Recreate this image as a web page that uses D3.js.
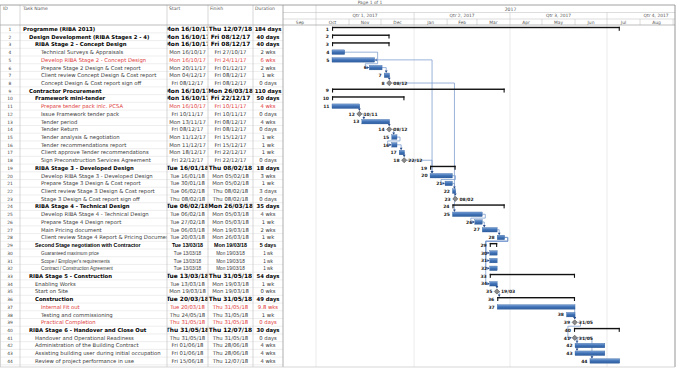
<!DOCTYPE html>
<html><head><meta charset="utf-8">
<script src="https://cdn.jsdelivr.net/npm/d3@7"></script>
<style>body{margin:0;background:#fff}svg{display:block}</style>
</head><body><svg id="c" width="680" height="369"></svg>
<script>
const taskNames = [
"Programme (RIBA 2013)","Design Development (RIBA Stages 2 - 4)","RIBA Stage 2 - Concept Design",
"Technical Surveys & Appraisals","Develop RIBA Stage 2 - Concept Design","Prepare Stage 2 Design & Cost report",
"Client review Concept Design & Cost report","Concept Design & Cost report sign off","Contractor Procurement",
"Framework mini-tender","Prepare tender pack inlc. PCSA","Issue Framework tender pack","Tender period",
"Tender Return","Tender analysis & negotiation","Tender recommendations report","Client approve Tender recommendations",
"Sign Preconstruction Services Agreement","RIBA Stage 3 - Developed Design","Develop RIBA Stage 3 - Developed Design",
"Prepare Stage 3 Design & Cost report","Client review Stage 3 Design & Cost report","Stage 3  Design & Cost report sign off",
"RIBA Stage 4 - Technical Design","Develop RIBA Stage 4 - Technical Design","Prepare Stage 4 Design report",
"Main Pricing document","Client review Stage 4 Report & Pricing Document","Second Stage negotiation with Contractor",
"Guaranteed maximum price","Scope / Employer's requirements","Contract / Construction Agreement",
"RIBA Stage 5 - Construction","Enabling Works","Start on Site","Construction","Internal Fit out",
"Testing and commissioning","Practical Completion","RIBA Stage 6 - Handover and Close Out",
"Handover and Operational Readiness","Administration of the Building Contract",
"Assisting building user during initial occupation","Review of project performance in use"];
const taskLevels = [0,1,2,3,3,3,3,3,1,2,3,3,3,3,3,3,3,3,2,3,3,3,3,2,3,3,3,3,2,3,3,3,1,2,2,2,3,3,3,1,2,2,2,2];
const startLabels = [
"Mon 16/10/17","Mon 16/10/17","Mon 16/10/17","Mon 16/10/17","Mon 16/10/17","Mon 20/11/17","Mon 04/12/17","Fri 08/12/17",
"Mon 16/10/17","Mon 16/10/17","Mon 16/10/17","Fri 10/11/17","Mon 13/11/17","Fri 08/12/17","Mon 11/12/17","Mon 11/12/17",
"Mon 18/12/17","Fri 22/12/17","Tue 16/01/18","Tue 16/01/18","Tue 30/01/18","Tue 06/02/18","Thu 08/02/18","Tue 06/02/18",
"Tue 06/02/18","Tue 27/02/18","Tue 06/03/18","Tue 20/03/18","Tue 13/03/18","Tue 13/03/18","Tue 13/03/18","Tue 13/03/18",
"Tue 13/03/18","Tue 13/03/18","Mon 19/03/18","Tue 20/03/18","Tue 20/03/18","Thu 24/05/18","Thu 31/05/18","Thu 31/05/18",
"Thu 31/05/18","Fri 01/06/18","Fri 01/06/18","Fri 15/06/18"];
const finishLabels = [
"Thu 12/07/18","Fri 08/12/17","Fri 08/12/17","Fri 27/10/17","Fri 24/11/17","Fri 01/12/17","Fri 08/12/17","Fri 08/12/17",
"Mon 26/03/18","Fri 22/12/17","Fri 10/11/17","Fri 10/11/17","Fri 08/12/17","Fri 08/12/17","Fri 15/12/17","Fri 15/12/17",
"Fri 22/12/17","Fri 22/12/17","Thu 08/02/18","Mon 05/02/18","Mon 05/02/18","Thu 08/02/18","Thu 08/02/18","Mon 26/03/18",
"Mon 05/03/18","Mon 05/03/18","Mon 19/03/18","Mon 26/03/18","Mon 19/03/18","Mon 19/03/18","Mon 19/03/18","Mon 19/03/18",
"Thu 31/05/18","Mon 19/03/18","Mon 19/03/18","Thu 31/05/18","Thu 31/05/18","Thu 31/05/18","Thu 31/05/18","Thu 12/07/18",
"Thu 31/05/18","Thu 28/06/18","Thu 28/06/18","Thu 12/07/18"];
const durationLabels = [
"184 days","40 days","40 days","2 wks","6 wks","2 wks","1 wk","0 days","110 days","50 days","4 wks","0 days","4 wks",
"0 days","1 wk","1 wk","1 wk","0 days","18 days","3 wks","1 wk","3 days","0 days","35 days","4 wks","1 wk","2 wks","1 wk",
"5 days","1 wk","1 wk","1 wk","54 days","1 wk","0 wks","49 days","9.8 wks","1 wk","0 days","30 days","0 days","4 wks","4 wks","4 wks"];
const summaryIds = [1,2,3,9,10,19,24,29,33,36,40];
const criticalIds = [5,11,37,39];
const narrowIds = [29,30,31,32];
const links = [[4,5,"FF"],[5,6],[6,7],[7,8],[5,20],[8,25],[11,12],[12,13],[13,14],[14,15],[15,16],[16,17],[17,18],[18,20],
[20,21],[21,22],[22,23],[25,26],[26,27],[27,28],[28,30],[28,31],[28,32],[28,34],[34,35],[35,36],[37,39],[38,39],[39,41],
[41,42],[41,43],[41,44]];
const monthLabels = ["Sep","Oct","Nov","Dec","Jan","Feb","Mar","Apr","May","Jun","Jul","Aug","Sep"];
const quarterLabels = ["Qtr 4, 2016","Qtr 1, 2017","Qtr 2, 2017","Qtr 3, 2017","Qtr 4, 2017"];
const yearLabels = ["2016","2017"];
const columnHeaders = ["ID","Task Name","Start","Finish","Duration"];

const svg = d3.select("#c");
const rowH = 7.72, row0 = 29;
const yRow = i => row0 + i*rowH;
const DAY = 864e5;
const parseLabel = s => { const p = s.trim().split(" ")[1].split("/"); return new Date(Date.UTC(2000 + +p[2], +p[1]-1, +p[0])); };
const x = d3.scaleUtc().domain([new Date(Date.UTC(2017,9,1)), new Date(Date.UTC(2018,6,1))]).range([316,607]);
const GX0 = 283, GX1 = 675, TOP = 5, HB = 25, BOT = 367;
const tasks = taskNames.map((n,i)=>{
  const id=i+1, s=parseLabel(startLabels[i]), f=parseLabel(finishLabels[i]);
  return {id, name:n, level:taskLevels[i], s, f, ms:/^0 /.test(durationLabels[i]), summ:summaryIds.includes(id),
    red:criticalIds.includes(id), narrow:narrowIds.includes(id), y:yRow(i),
    xs:x(s), xe:x(new Date(+f+DAY)), mx:x(new Date(+f+0.7*DAY))};
});
const byId = id => tasks[id-1];

const defs = svg.append("defs");
const cols = [{x0:0,x1:20},{x0:20,x1:167},{x0:167,x1:208},{x0:208,x1:253},{x0:253,x1:283}];
cols.forEach((c,i)=>defs.append("clipPath").attr("id","cl"+i).append("rect").attr("x",c.x0+0.5).attr("y",HB).attr("width",c.x1-c.x0-1).attr("height",BOT-HB));
defs.append("clipPath").attr("id","gclip").append("rect").attr("x",GX0).attr("y",TOP).attr("width",GX1-GX0).attr("height",BOT-TOP);
const grad = defs.append("linearGradient").attr("id","bar").attr("x1",0).attr("y1",0).attr("x2",0).attr("y2",1);
grad.append("stop").attr("offset","0").attr("stop-color","#7da3d6");
grad.append("stop").attr("offset","0.5").attr("stop-color","#3f71b5");
grad.append("stop").attr("offset","1").attr("stop-color","#2f5e9e");

// Page header text
svg.append("text").attr("x",370).attr("y",4).attr("text-anchor","middle").attr("font-family","DejaVu Sans").attr("font-size",4.4).attr("fill","#666").text("Page 1 of 1");

// Table row lines
const tbl = svg.append("g");
tasks.forEach(t=>{
  tbl.append("line").attr("x1",0).attr("x2",GX0).attr("y1",t.y+rowH/2).attr("y2",t.y+rowH/2).attr("stroke","#e3e3e3").attr("stroke-width",0.6);
});
[0.5,20,167,208,253].forEach(cx=>tbl.append("line").attr("x1",cx).attr("x2",cx).attr("y1",TOP).attr("y2",BOT).attr("stroke","#c6c6c6").attr("stroke-width",0.7));
const hx = [3,23,169,210,255];
columnHeaders.forEach((h,i)=>tbl.append("text").attr("x",hx[i]).attr("y",10).attr("font-family","DejaVu Sans").attr("font-size",4.6).attr("fill","#555").text(h));

// Table texts
tasks.forEach(t=>{
  const fam = t.narrow ? "Liberation Sans" : "DejaVu Sans";
  const fs = t.narrow ? (t.summ ? 5.3 : 4.7) : 5.3;
  const fill = t.red ? "#e03a3a" : (t.summ ? "#000" : "#3a3a3a");
  const fw = t.summ ? "bold" : "normal";
  const yb = t.y + 1.9;
  tbl.append("text").attr("x",10).attr("y",yb).attr("text-anchor","middle").attr("font-family","DejaVu Sans").attr("font-size",4.4).attr("fill","#444").text(t.id);
  const vals = [[t.name,"start",23+t.level*6,1],[startLabels[t.id-1],"middle",187.5,2],[finishLabels[t.id-1],"middle",230.5,3],[durationLabels[t.id-1],"middle",268,4]];
  vals.forEach(v=>{
    let fsz = (v[3]>1 && t.narrow && !t.summ) ? 4.7 : fs;
    if((v[3]===2||v[3]===3) && t.summ && !t.narrow) fsz = 5.9;
    tbl.append("text").attr("clip-path","url(#cl"+v[3]+")").attr("x",v[2]).attr("y",yb).attr("text-anchor",v[1])
      .attr("font-family", v[3]>1 && t.narrow ? "Liberation Sans" : fam).attr("font-size",fsz).attr("font-weight",fw).attr("fill",fill).text(v[0]);
  });
});

// Gantt header
const gh = svg.append("g").attr("clip-path","url(#gclip)");
const yearStarts = [new Date(Date.UTC(2016,9,1)), new Date(Date.UTC(2017,9,1)), new Date(Date.UTC(2018,9,1))];
const qStarts = d3.utcMonth.range(new Date(Date.UTC(2017,6,1)), new Date(Date.UTC(2018,10,1)), 3);
const mStarts = d3.utcMonth.range(new Date(Date.UTC(2017,8,1)), new Date(Date.UTC(2018,9,1)));
gh.append("line").attr("x1",GX0).attr("x2",GX1).attr("y1",12.5).attr("y2",12.5).attr("stroke","#c6c6c6").attr("stroke-width",0.6);
gh.append("line").attr("x1",GX0).attr("x2",GX1).attr("y1",19).attr("y2",19).attr("stroke","#c6c6c6").attr("stroke-width",0.6);
yearLabels.forEach((lab,i)=>{
  const a=x(yearStarts[i]), b=x(yearStarts[i+1]);
  gh.append("line").attr("x1",b).attr("x2",b).attr("y1",TOP).attr("y2",12.5).attr("stroke","#c6c6c6").attr("stroke-width",0.6);
  if(i===1) gh.append("text").attr("x",(a+b)/2).attr("y",10.5).attr("text-anchor","middle").attr("font-family","DejaVu Sans").attr("font-size",4.6).attr("fill","#555").text(lab);
});
qStarts.slice(0,-1).forEach((q,i)=>{
  const a=x(q), b=x(qStarts[i+1]);
  gh.append("line").attr("x1",b).attr("x2",b).attr("y1",12.5).attr("y2",19).attr("stroke","#c6c6c6").attr("stroke-width",0.6);
  if(i>0) gh.append("text").attr("x",(a+b)/2).attr("y",17.3).attr("text-anchor","middle").attr("font-family","DejaVu Sans").attr("font-size",4.4).attr("fill","#555").text(quarterLabels[i]);
});
mStarts.slice(0,-1).forEach((m,i)=>{
  const a=x(m), b=x(mStarts[i+1]);
  gh.append("line").attr("x1",b).attr("x2",b).attr("y1",19).attr("y2",HB).attr("stroke","#c6c6c6").attr("stroke-width",0.6);
  gh.append("text").attr("x",(a+b)/2).attr("y",23.6).attr("text-anchor","middle").attr("font-family","DejaVu Sans").attr("font-size",4.4).attr("fill","#555").text(monthLabels[i]);
});
qStarts.forEach(q=>gh.append("line").attr("x1",x(q)).attr("x2",x(q)).attr("y1",HB).attr("y2",BOT).attr("stroke","#e2e2e2").attr("stroke-width",0.7));

// frame lines
svg.append("line").attr("x1",0).attr("x2",GX1).attr("y1",TOP).attr("y2",TOP).attr("stroke","#8a8a8a").attr("stroke-width",0.8);
svg.append("line").attr("x1",0).attr("x2",GX1).attr("y1",HB).attr("y2",HB).attr("stroke","#a0a0a0").attr("stroke-width",0.7);
svg.append("line").attr("x1",GX0).attr("x2",GX0).attr("y1",TOP).attr("y2",BOT).attr("stroke","#9a9a9a").attr("stroke-width",0.8);
svg.append("line").attr("x1",GX1).attr("x2",GX1).attr("y1",TOP).attr("y2",BOT).attr("stroke","#8a8a8a").attr("stroke-width",0.9);
svg.append("line").attr("x1",0).attr("x2",GX1).attr("y1",BOT).attr("y2",BOT).attr("stroke","#c6c6c6").attr("stroke-width",0.7);

// Links
const g = svg.append("g").attr("clip-path","url(#gclip)");
const lk = g.append("g");
const LC = "#7f9fcf", AC = "#2a4d8a";
const arrowDown = (vx,vy)=>lk.append("path").attr("d",`M${vx-1.4},${vy-2.4}L${vx+1.4},${vy-2.4}L${vx},${vy}Z`).attr("fill",AC);
const arrowRight = (vx,vy)=>lk.append("path").attr("d",`M${vx-2.4},${vy-1.4}L${vx-2.4},${vy+1.4}L${vx},${vy}Z`).attr("fill",AC);
const arrowLeft = (vx,vy)=>lk.append("path").attr("d",`M${vx+2.4},${vy-1.4}L${vx+2.4},${vy+1.4}L${vx},${vy}Z`).attr("fill",AC);
const topOf = t => t.ms ? t.y-3 : (t.summ ? t.y-2.2 : t.y-2.3);
links.forEach(l=>{
  const a=byId(l[0]), b=byId(l[1]);
  const x1 = a.ms ? a.mx+2.8 : a.xe, y1 = a.y;
  if(l[2]==="FF"){
    const xx = Math.max(x1,b.xe)+3;
    lk.append("path").attr("d",`M${x1},${y1}H${xx}V${b.y}H${b.xe+0.5}`).attr("fill","none").attr("stroke",LC).attr("stroke-width",0.8);
    arrowLeft(b.xe,b.y); return;
  }
  const vx = b.ms ? b.mx : b.xs+2;
  if(vx >= x1-0.5){
    const yt = topOf(b);
    lk.append("path").attr("d",`M${x1},${y1}H${vx}V${yt-1}`).attr("fill","none").attr("stroke",LC).attr("stroke-width",0.8);
    arrowDown(vx,yt);
  } else {
    const xt = b.ms ? b.mx-2.8 : b.xs;
    const ym = y1 + rowH/2;
    lk.append("path").attr("d",`M${x1},${y1}H${x1+3}V${ym}H${xt-4}V${b.y}H${xt-1}`).attr("fill","none").attr("stroke",LC).attr("stroke-width",0.8);
    arrowRight(xt,b.y);
  }
});

// Bars
const bars = g.append("g");
tasks.forEach(t=>{
  let labX;
  if(t.summ){
    bars.append("rect").attr("x",t.xs).attr("y",t.y-2.2).attr("width",t.xe-t.xs).attr("height",1.4).attr("fill","#111");
    bars.append("rect").attr("x",t.xs).attr("y",t.y-2.2).attr("width",1.1).attr("height",4).attr("fill","#111");
    bars.append("rect").attr("x",t.xe-1.1).attr("y",t.y-2.2).attr("width",1.1).attr("height",4).attr("fill","#111");
    labX = t.xs-3;
  } else if(t.ms){
    const m=t.mx, r=2.6;
    bars.append("path").attr("d",`M${m},${t.y-r}L${m+r},${t.y}L${m},${t.y+r}L${m-r},${t.y}Z`).attr("fill","#8a8a8a").attr("stroke","#3d3d3d").attr("stroke-width",0.5);
    labX = m-r-2;
    bars.append("text").attr("x",m+r+1.5).attr("y",t.y+1.7).attr("font-family","DejaVu Sans").attr("font-weight","bold").attr("font-size",4.5).attr("fill","#222")
      .text(d3.utcFormat("%d/%m")(t.f));
  } else {
    bars.append("rect").attr("x",t.xs).attr("y",t.y-2.3).attr("width",t.xe-t.xs).attr("height",4.6).attr("fill","url(#bar)").attr("stroke","#2d5a98").attr("stroke-width",0.3);
    labX = t.xs-2.5;
  }
  bars.append("text").attr("x",labX).attr("y",t.y+1.7).attr("text-anchor","end").attr("font-family","DejaVu Sans").attr("font-weight","bold").attr("font-size",4.5).attr("fill","#222").text(t.id);
});
</script></body></html>
